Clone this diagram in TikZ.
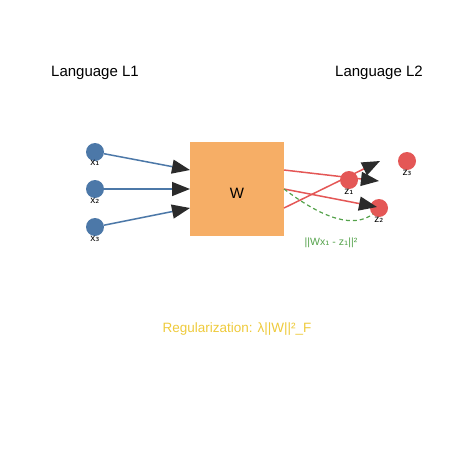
\documentclass[tikz,border=0pt]{standalone}
\usepackage{fontspec}
\setmainfont{Liberation Sans}
\newfontfamily\symfont{DejaVu Sans}
\usetikzlibrary{arrows.meta}
\definecolor{vblue}{HTML}{4C78A8}
\definecolor{vred}{HTML}{E45756}
\definecolor{vorange}{HTML}{F6AE66}
\definecolor{vgreen}{HTML}{54A24B}
\definecolor{vyellow}{HTML}{EECA3B}
\definecolor{headgray}{HTML}{2B2B2B}
\tikzset{
  bnode/.style={circle,fill=vblue,minimum size=18pt,inner sep=0pt},
  rnode/.style={circle,fill=vred,minimum size=18pt,inner sep=0pt},
  sublabel/.style={anchor=base,inner sep=0pt,font=\fontsize{10}{11}\selectfont,text=black},
  title/.style={font=\fontsize{15}{18}\selectfont,inner sep=0pt},
  bigarrow/.style={-{Triangle[length=18pt,width=14pt,color=headgray]}},
  bline/.style={bigarrow,draw=vblue,line width=1.5pt},
  rline/.style={bigarrow,draw=vred,line width=1.5pt},
}
\begin{document}
\begin{tikzpicture}[x=1pt,y=-1pt]
\useasboundingbox (0,0) rectangle (474,474);
\node[title] (t1) at (95,73) {Language L1};
\node[title] (t2) at (379,73) {Language L2};
% box
\node[fill=vorange,minimum width=94pt,minimum height=94pt,inner sep=0pt] (W) at (237,189) {};
\node[font=\fontsize{15}{18}\selectfont,inner sep=0pt] (Wl) at (237,193) {W};
% inputs
\node[bnode] (x1) at (95,152) {};
\node[bnode] (x2) at (95,189) {};
\node[bnode] (x3) at (95,227) {};
\node[sublabel] (lx1) at (95,165.5) {x{\symfont ₁}};
\node[sublabel] (lx2) at (95,203) {x{\symfont ₂}};
\node[sublabel] (lx3) at (95,241) {x{\symfont ₃}};
% outputs
\node[rnode] (z1) at (349,180) {};
\node[rnode] (z2) at (379,208) {};
\node[rnode] (z3) at (407,161) {};
\node[sublabel] (lz1) at (349,194) {z{\symfont ₁}};
\node[sublabel] (lz2) at (379,222) {z{\symfont ₂}};
\node[sublabel] (lz3) at (407,175) {z{\symfont ₃}};
% coordinates on box edges
\coordinate (wi1) at (190,170);
\coordinate (wi2) at (190,189);
\coordinate (wi3) at (190,208);
\coordinate (wo1) at (284,170);
\coordinate (wo2) at (284,189);
\coordinate (wo3) at (284,208);
\coordinate (e1) at (379,181);
\coordinate (e2) at (377,207);
\coordinate (e3) at (380,161);
\coordinate (g1) at (373,214);
% input arrows
\draw[bline] (x1) -- (wi1);
\draw[bline] (x2) -- (wi2);
\draw[bline] (x3) -- (wi3);
% output arrows
\draw[rline] (wo1) -- (e1);
\draw[rline] (wo2) -- (e2);
\draw[rline] (wo3) -- (e3);
% loss curve
\draw[vgreen,line width=1.2pt,dash pattern=on 4pt off 3pt] (wo2) .. controls (325,220) and (354,228) .. (g1);
\node[text=vgreen,font=\fontsize{10.5}{12}\selectfont,inner sep=0pt] (loss) at (331,243) {||Wx{\symfont ₁} - z{\symfont ₁}||²};
% regularization
\node[text=vyellow,font=\fontsize{13.5}{16}\selectfont,inner sep=0pt] (reg) at (237,329) {Regularization: λ||W||²\_F};
\end{tikzpicture}
\end{document}
